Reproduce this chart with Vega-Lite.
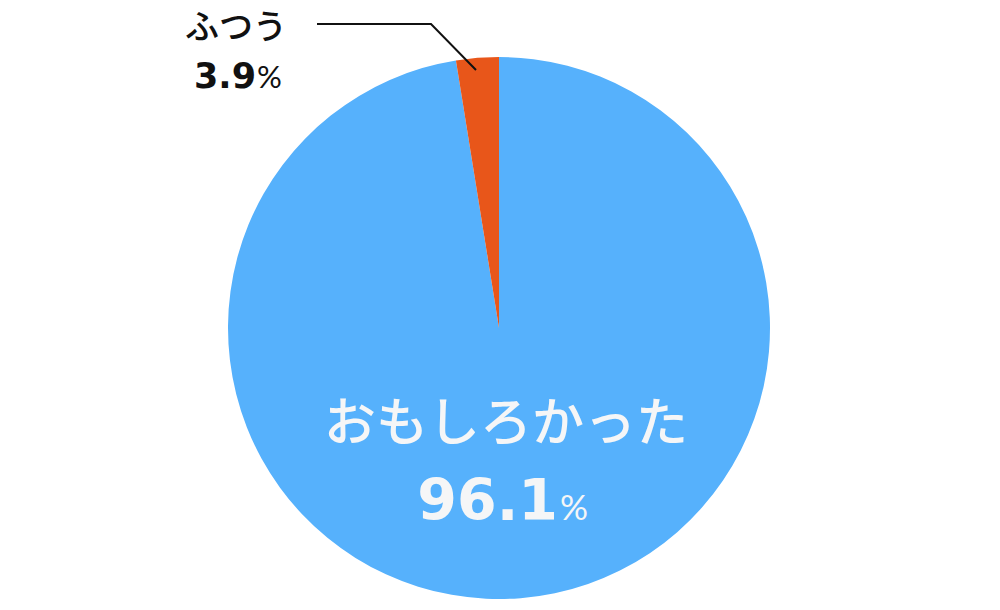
{
  "$schema": "https://vega.github.io/schema/vega-lite/v6.json",
  "width": 1000,
  "height": 610,
  "autosize": {"type": "fit", "contains": "padding"},
  "padding": 0,
  "background": "#ffffff",
  "config": {"view": {"stroke": null}},
  "datasets": {
    "slices": [
      {"label": "おもしろかった", "value": 97.46, "ord": 1},
      {"label": "ふつう", "value": 2.54, "ord": 2}
    ],
    "labels": [
      {"label": "おもしろかった", "pct": "96.1", "nx": 7, "ny": -97, "px": 59, "py": -192},
      {"label": "ふつう", "pct": "3.9", "nx": -263, "ny": 289, "px": -243, "py": 240}
    ],
    "leader": [
      {"x": -182, "y": 304, "k": 1},
      {"x": -68, "y": 304, "k": 2},
      {"x": -23, "y": 258, "k": 3}
    ]
  },
  "encoding": {
    "x": {"type": "quantitative", "scale": {"domain": [-499, 501], "nice": false, "zero": false}, "axis": null},
    "y": {"type": "quantitative", "scale": {"domain": [-282, 328], "nice": false, "zero": false}, "axis": null}
  },
  "layer": [
    {
      "data": {"name": "slices"},
      "mark": {"type": "arc", "outerRadius": 271},
      "encoding": {
        "x": {"datum": 0, "type": "quantitative"},
        "y": {"datum": 0, "type": "quantitative"},
        "theta": {"field": "value", "type": "quantitative", "stack": true},
        "order": {"field": "ord"},
        "color": {
          "field": "label", "type": "nominal", "legend": null,
          "scale": {"domain": ["おもしろかった", "ふつう"], "range": ["#56b1fc", "#e8561a"]}
        }
      }
    },
    {
      "data": {"name": "leader"},
      "mark": {"type": "line", "color": "#111111", "strokeWidth": 2},
      "encoding": {
        "x": {"field": "x"},
        "y": {"field": "y"},
        "order": {"field": "k"}
      }
    },
    {
      "data": {"name": "labels"},
      "transform": [{"filter": "datum.label === 'ふつう'"}],
      "mark": {"type": "text", "font": "Noto Sans CJK JP", "fontWeight": 500, "fontSize": 34, "color": "#111111", "align": "center", "baseline": "alphabetic"},
      "encoding": {"x": {"field": "nx"}, "y": {"field": "ny"}, "text": {"field": "label"}}
    },
    {
      "data": {"name": "labels"},
      "transform": [{"filter": "datum.label === 'ふつう'"}],
      "mark": {"type": "text", "font": "DejaVu Sans", "fontWeight": "bold", "fontSize": 35, "color": "#111111", "align": "right", "baseline": "alphabetic"},
      "encoding": {"x": {"field": "px"}, "y": {"field": "py"}, "text": {"field": "pct"}}
    },
    {
      "data": {"name": "labels"},
      "transform": [{"filter": "datum.label === 'ふつう'"}],
      "mark": {"type": "text", "font": "Lato", "fontWeight": 400, "fontSize": 31, "color": "#111111", "align": "left", "baseline": "alphabetic", "dx": 1, "text": "%"},
      "encoding": {"x": {"field": "px"}, "y": {"field": "py"}}
    },
    {
      "data": {"name": "labels"},
      "transform": [{"filter": "datum.label === 'おもしろかった'"}],
      "mark": {"type": "text", "font": "Noto Sans CJK JP", "fontWeight": 500, "fontSize": 52, "color": "#f5f6f7", "align": "center", "baseline": "middle"},
      "encoding": {"x": {"field": "nx"}, "y": {"field": "ny"}, "text": {"field": "label"}}
    },
    {
      "data": {"name": "labels"},
      "transform": [{"filter": "datum.label === 'おもしろかった'"}],
      "mark": {"type": "text", "font": "DejaVu Sans", "fontWeight": "bold", "fontSize": 57, "color": "#f5f6f7", "align": "right", "baseline": "alphabetic"},
      "encoding": {"x": {"field": "px"}, "y": {"field": "py"}, "text": {"field": "pct"}}
    },
    {
      "data": {"name": "labels"},
      "transform": [{"filter": "datum.label === 'おもしろかった'"}],
      "mark": {"type": "text", "font": "Lato", "fontWeight": 400, "fontSize": 35, "color": "#f5f6f7", "align": "left", "baseline": "alphabetic", "dx": 2, "text": "%"},
      "encoding": {"x": {"field": "px"}, "y": {"field": "py"}}
    }
  ]
}
